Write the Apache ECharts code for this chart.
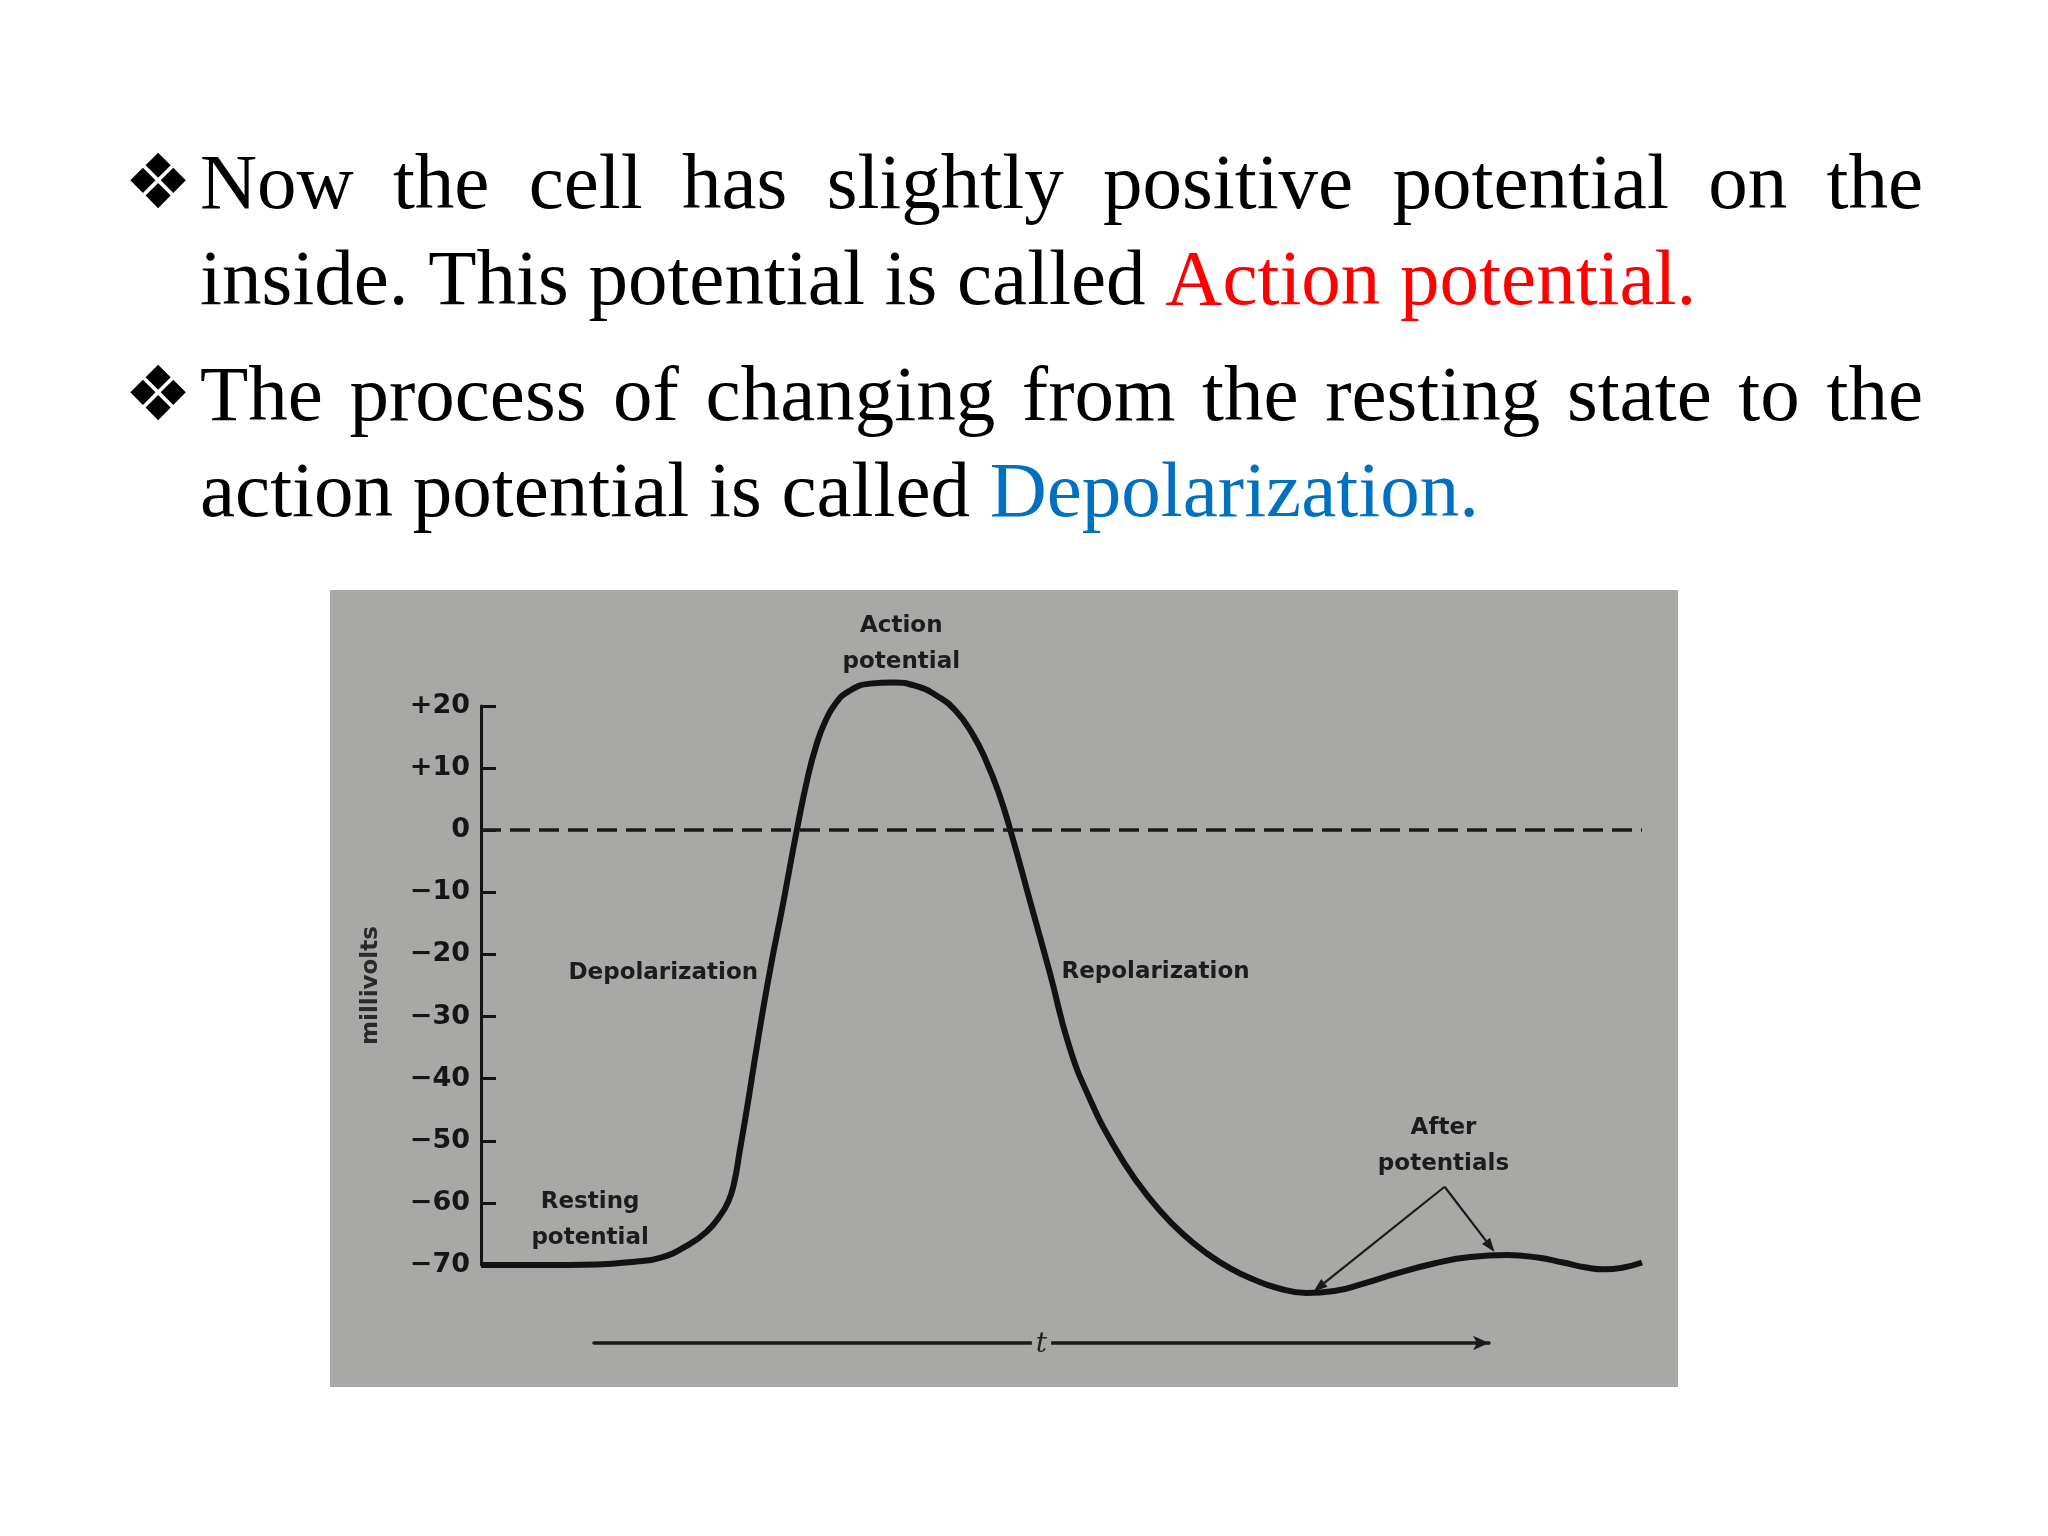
<!DOCTYPE html>
<html>
<head>
<meta charset="utf-8">
<title>Action potential</title>
<script src="https://cdn.jsdelivr.net/npm/echarts/dist/echarts.min.js"></script>
<style>
  html, body { margin: 0; padding: 0; background: #fff; }
  #slide { width: 2048px; height: 1536px; }
</style>
</head>
<body>
<div id="slide"></div>
<script>
// membrane potential, time in % of the sweep, mV
var times = [0, 5, 10, 13, 15.5, 18, 19.5, 20.5, 21.3, 21.8, 22.3, 22.9, 23.8, 24.9, 26.0, 27.2,
  28.2, 28.9, 29.6, 30.5, 31.7, 33.5, 35.5, 37.5, 39.3, 40.9, 42.3, 43.5, 44.6, 45.6, 47.3, 49.0,
  50.7, 52.5, 54.5, 56.5, 58.5, 60.5, 62.5, 64.5, 66.5, 68.6, 71.1, 73.5, 76, 78.8, 82, 85.2,
  88.4, 91, 93.2, 95.2, 96.8, 98.4, 100];
var millivolts = [-70, -70, -69.9, -69.5, -68.8, -66.6, -64.5, -62.3, -59.8, -56.8, -51.5, -44.9, -34.4, -22.5, -12, 0,
  9.0, 13.8, 17.3, 20.3, 22.4, 23.6, 23.8, 23.2, 21.6, 19.2, 15.6, 11.2, 6, 0, -11.5, -23,
  -35.0, -43.5, -50.8, -56.6, -61.3, -65.1, -68.1, -70.5, -72.3, -73.7, -74.5, -74.2, -73, -71.4, -69.8, -68.7,
  -68.4, -68.8, -69.6, -70.4, -70.7, -70.4, -69.6];

var yMin = -70, yMax = 20, yStep = 10;

var bulletLines = [
  'Now the cell has slightly positive potential on the',
  'The process of changing from the resting state to the'
];
var highlight = ['Action potential.', 'Depolarization.'];

// labels inside the figure and where they sit, in [time, mV]
var noteText = ['Action\npotential', 'Depolarization', 'Repolarization', 'Resting\npotential', 'After\npotentials'];
var noteAt = [[36.2, 30.0], [15.7, -23.0], [58.1, -22.8], [9.4, -62.8], [82.9, -50.9]];
// the two pointers from "After potentials"
var pointerFrom = [83, -57.4];
var pointerTo = [[71.7, -74.3], [87.3, -67.9]];

var curve = [];
for (var i = 0; i < times.length; i++) {
  curve.push([times[i], millivolts[i]]);
}

var panelGray = '#a8a8a6';
var serifFont = '79px "Liberation Serif"';
var ctx = document.createElement('canvas').getContext('2d');
ctx.font = serifFont;

// spread the words of a line so it fills x0..x1 (justified text)
function justified(line, x0, x1, y) {
  var words = line.split(' ');
  var w = [], total = 0;
  for (var i = 0; i < words.length; i++) {
    w.push(ctx.measureText(words[i]).width);
    total += w[i];
  }
  var gap = (x1 - x0 - total) / (words.length - 1);
  var out = [], x = x0;
  for (var i = 0; i < words.length; i++) {
    out.push({ type: 'text', x: x, y: y,
      style: { text: words[i], font: serifFont, fill: '#000', verticalAlign: 'middle' } });
    x += w[i] + gap;
  }
  return out;
}

function mixedLine(plain, coloured, colour, x, y) {
  return { type: 'text', x: x, y: y,
    style: {
      text: '{k|' + plain + '}{c|' + coloured + '}',
      verticalAlign: 'middle',
      rich: {
        k: { font: serifFont, fill: '#000' },
        c: { font: serifFont, fill: colour }
      }
    } };
}

function bullet(y) {
  return { type: 'text', x: 158, y: y,
    style: { text: '\u2756', font: '76px "DejaVu Sans"', fill: '#000', align: 'center', verticalAlign: 'middle' } };
}

var graphics = [
  { type: 'rect', z: -100, shape: { x: 330, y: 590, width: 1348, height: 797 }, style: { fill: panelGray } },
  bullet(188),
  bullet(400),
  mixedLine('inside. This potential is called ', highlight[0], '#ff0000', 200, 283),
  mixedLine('action potential is called ', highlight[1], '#0070c0', 200, 495)
];
graphics = graphics.concat(justified(bulletLines[0], 200, 1923, 187));
graphics = graphics.concat(justified(bulletLines[1], 200, 1923, 399));

var myChart = echarts.init(document.getElementById('slide'));
var option = {
  backgroundColor: '#ffffff',
  animation: false,
  graphic: graphics,
  grid: [
    { left: 481, top: 706, width: 1161, height: 559 },
    { left: 594, top: 1333, width: 895, height: 10 }
  ],
  xAxis: [
    { type: 'value', gridIndex: 0, min: 0, max: 100, show: false },
    {
      type: 'value', gridIndex: 1, min: 0, max: 1,
      axisLine: { show: true, symbol: ['none', 'arrow'], symbolSize: [11, 16], lineStyle: { color: '#1a1a1a', width: 3.5 } },
      axisTick: { show: false }, axisLabel: { show: false }, splitLine: { show: false }
    }
  ],
  yAxis: [
    {
      type: 'value', gridIndex: 0, min: yMin, max: yMax, interval: yStep,
      axisLine: { show: true, lineStyle: { color: '#141414', width: 3 } },
      axisTick: { show: true, inside: true, length: 15, lineStyle: { color: '#141414', width: 3 } },
      splitLine: { show: false },
      axisLabel: {
        margin: 11, fontFamily: 'DejaVu Sans', fontWeight: 'bold', fontSize: 27, color: '#161616',
        formatter: function (v) {
          if (v > 0) return '+' + v;
          if (v < 0) return '\u2212' + (-v);
          return '0';
        }
      },
      name: 'millivolts', nameLocation: 'middle', nameRotate: 90, nameGap: 98,
      nameTextStyle: { fontFamily: 'DejaVu Sans', fontWeight: 'bold', fontSize: 23, color: '#2a2a2a' }
    },
    { type: 'value', gridIndex: 1, min: 0, max: 1, show: false }
  ],
  series: [
    {
      name: 'membrane potential',
      type: 'line',
      xAxisIndex: 0, yAxisIndex: 0,
      data: curve,
      smooth: 0.5,
      symbol: 'none',
      clip: false,
      lineStyle: { color: '#121212', width: 6 },
      markLine: {
        silent: true,
        symbol: ['none', 'none'],
        label: { show: false },
        data: [
          { yAxis: 0, lineStyle: { type: [20, 9], width: 3.5, color: '#1a1a1a' } }
        ]
      }
    }
  ]
};
myChart.setOption(option);

// annotations that reach past the axis range are placed through the grid's own scale
function px(p) {
  return myChart.convertToPixel({ gridIndex: 0 }, p);
}

function pointer(a, b) {
  var p0 = px(a), p1 = px(b);
  var dx = p1[0] - p0[0], dy = p1[1] - p0[1];
  var len = Math.sqrt(dx * dx + dy * dy);
  var ux = dx / len, uy = dy / len, L = 14, W = 5;
  var bx = p1[0] - ux * L, by = p1[1] - uy * L;
  return [
    { type: 'line', z: 10, shape: { x1: p0[0], y1: p0[1], x2: bx, y2: by }, style: { stroke: '#1a1a1a', lineWidth: 2.2 } },
    { type: 'polygon', z: 10, shape: { points: [p1, [bx - uy * W, by + ux * W], [bx + uy * W, by - ux * W]] }, style: { fill: '#1a1a1a' } }
  ];
}

for (var i = 0; i < noteText.length; i++) {
  var p = px(noteAt[i]);
  graphics.push({ type: 'text', z: 10, x: p[0], y: p[1],
    style: { text: noteText[i], fontFamily: 'DejaVu Sans', fontWeight: 'bold', fontSize: 23, lineHeight: 36,
      fill: '#1c1c1c', align: 'center', verticalAlign: 'middle' } });
}
for (var i = 0; i < pointerTo.length; i++) {
  graphics = graphics.concat(pointer(pointerFrom, pointerTo[i]));
}
var tPos = myChart.convertToPixel({ gridIndex: 1 }, [0.5, 0]);
graphics.push({ type: 'text', z: 10, x: tPos[0], y: tPos[1] + 2,
  style: { text: 't', fontFamily: 'DejaVu Serif', fontStyle: 'italic', fontSize: 28, fill: '#222',
    align: 'center', verticalAlign: 'middle', backgroundColor: panelGray, padding: [2, 4] } });

myChart.setOption({ graphic: graphics });
</script>
</body>
</html>
